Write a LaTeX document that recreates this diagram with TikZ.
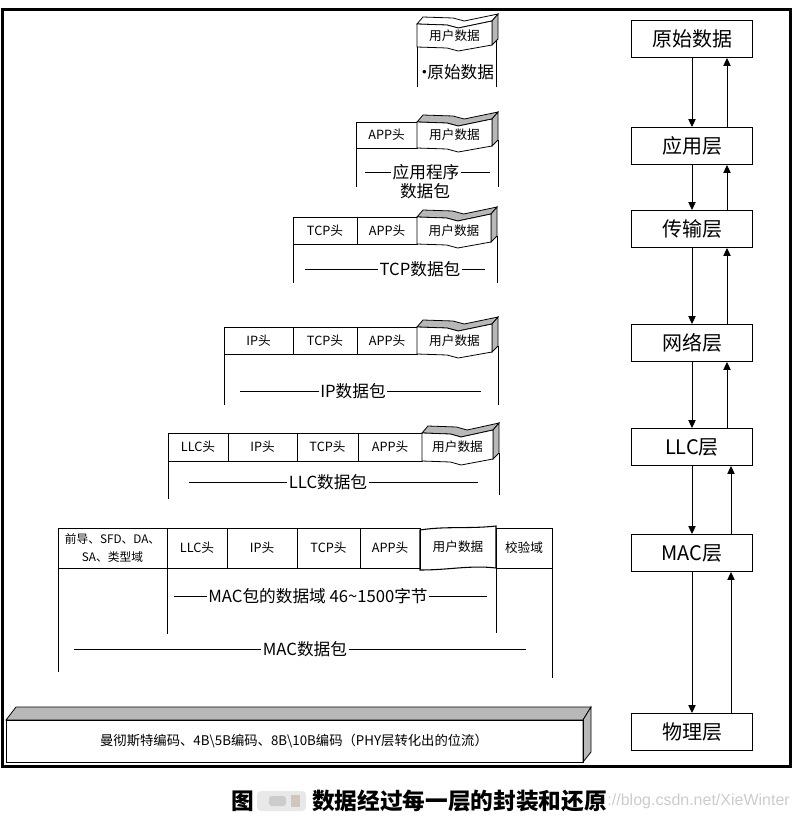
\documentclass[tikz,border=0pt]{standalone}
\usepackage{fontspec}
\setmainfont{Noto Sans CJK SC}
\newfontfamily\wmfont{Liberation Sans}
\usetikzlibrary{arrows.meta}
\definecolor{facegray}{gray}{0.72}

% one header cell of a packet: name, x0, y0, x1, y1, text
\newcommand{\pktcell}[6]{%
  \draw[cellline] (#2,#3) rectangle (#4,#5);
  \node[celltext] (#1) at ({(#2+#4)/2},{(#3+#5)/2}) {#6};}

% the 3d user data block: name, x0, top, x1, bottom, fill of top face
\newcommand{\udblock}[6]{%
  \pgfmathsetmacro{\ua}{#2+0.4*(#4-#2)}%
  \pgfmathsetmacro{\ub}{#2+0.55*(#4-#2)}%
  \filldraw[cellline,fill=#6] (#2,#3) -- (\ua,#3+1) -- (\ub,#3+4) -- (#4,#3-3) -- (#4+6,#3-10) -- (\ub+6,#3-3) -- (\ua+6,#3-6) -- (#2+6,#3-7) -- cycle;
  \filldraw[cellline,fill=facegray] (#4,#3-3) -- (#4+6,#3-10) -- (#4+6,#5-8) -- (#4,#5-2) -- cycle;
  \filldraw[cellline,fill=white] (#2,#3) -- (\ua,#3+1) -- (\ub,#3+4) -- (#4,#3-3) -- (#4,#5-2) -- (\ub,#5+4) -- (\ua,#5+1) -- (#2,#5) -- cycle;
  \node[celltext] (#1) at ({(#2+#4)/2},{(#3+#5)/2}) {用户数据};}

\begin{document}
\begin{tikzpicture}[x=0.75pt,y=-0.75pt,
    cellline/.style={line width=0.6pt},
    celltext/.style={font=\fontsize{9.5}{11}\selectfont,inner sep=0pt},
    pktlabel/.style={font=\fontsize{12.5}{14}\selectfont,inner sep=1pt},
    layer/.style={draw,line width=0.7pt,minimum width=90.75pt,minimum height=27.75pt,font=\fontsize{15}{17}\selectfont},
    arr/.style={line width=0.7pt,-{Triangle[length=6pt,width=5.5pt]}}]
  \useasboundingbox (0,0) rectangle (800,818);
  \draw[line width=2.25pt] (2.5,9.5) rectangle (790.5,766.5);

  % layers on the right
  \node[layer] (raw) at (692,39) {原始数据};
  \node[layer] (app) at (692,146) {应用层};
  \node[layer] (trans) at (692,229) {传输层};
  \node[layer] (net) at (692,343) {网络层};
  \node[layer] (llc) at (692,447) {LLC层};
  \node[layer] (mac) at (692,553) {MAC层};
  \node[layer] (phy) at (692,732) {物理层};
  \foreach \a/\b/\s in {raw/app/26.25pt,app/trans/26.25pt,trans/net/26.25pt,net/llc/26.25pt,llc/mac/29.25pt,mac/phy/29.25pt}{
    \draw[arr] (\a.south) -- (\b.north);
    \draw[arr] ([xshift=\s]\b.north) -- ([xshift=\s]\a.south);
  }

  % raw data
  \udblock{ud1}{417}{24}{492}{47}{white}
  \draw[cellline] (417,47) -- (417,87);
  \draw[cellline] (496,40) -- (496,87);
  \node[pktlabel] (rawlbl) at (455,72) {·\kern-4pt 原始数据};

  % application
  \pktcell{apph2}{356}{122}{417}{148}{APP头}
  \udblock{ud2}{417}{122}{492}{148}{facegray}
  \draw[cellline] (356,148) -- (356,187);
  \draw[cellline] (498,140) -- (498,187);
  \node[pktlabel] (applbl) at (426,172) {应用程序};
  \node[pktlabel] (applbl2) at (425,191) {数据包};
  \draw[cellline] (365,172) -- (applbl.west);
  \draw[cellline] (applbl.east) -- (490,172);

  % tcp
  \pktcell{tcph3}{293}{217}{357}{244}{TCP头}
  \pktcell{apph3}{357}{217}{417}{244}{APP头}
  \udblock{ud3}{417}{217}{491}{244}{facegray}
  \draw[cellline] (293,244) -- (293,283);
  \draw[cellline] (497,236) -- (497,283);
  \node[pktlabel] (tcplbl) at (420,269) {TCP数据包};
  \draw[cellline] (305,269) -- (tcplbl.west);
  \draw[cellline] (tcplbl.east) -- (485,269);

  % ip
  \pktcell{iph4}{224}{327}{293}{354}{IP头}
  \pktcell{tcph4}{293}{327}{357}{354}{TCP头}
  \pktcell{apph4}{357}{327}{417}{354}{APP头}
  \udblock{ud4}{417}{327}{492}{354}{facegray}
  \draw[cellline] (224,354) -- (224,405);
  \draw[cellline] (498,346) -- (498,405);
  \node[pktlabel] (iplbl) at (353,391) {IP数据包};
  \draw[cellline] (240,391) -- (iplbl.west);
  \draw[cellline] (iplbl.east) -- (481,391);

  % llc
  \pktcell{llch5}{168}{433}{228}{461}{LLC头}
  \pktcell{iph5}{228}{433}{297}{461}{IP头}
  \pktcell{tcph5}{297}{433}{358}{461}{TCP头}
  \pktcell{apph5}{358}{433}{422}{461}{APP头}
  \udblock{ud5}{422}{433}{493}{461}{facegray}
  \draw[cellline] (168,461) -- (168,499);
  \draw[cellline] (499,453) -- (499,495);
  \node[pktlabel] (llclbl) at (328,482) {LLC数据包};
  \draw[cellline] (189,482) -- (llclbl.west);
  \draw[cellline] (llclbl.east) -- (478,482);

  % mac
  \draw[cellline] (58,528) rectangle (167,568);
  \node[celltext,align=center,font=\fontsize{8.8}{13}\selectfont] (pre6) at (112.5,548) {前导、SFD、DA、\\SA、类型域};
  \pktcell{llch6}{167}{528}{227}{568}{LLC头}
  \pktcell{iph6}{227}{528}{297}{568}{IP头}
  \pktcell{tcph6}{297}{528}{360}{568}{TCP头}
  \pktcell{apph6}{360}{528}{420}{568}{APP头}
  \pktcell{fcs6}{496}{528}{552}{568}{校验域}
  \draw[cellline,line width=0.8pt] (420,530) .. controls (445,526) and (470,529) .. (496,526) -- (496,568) .. controls (470,565) and (450,570) .. (420,570) -- cycle;
  \node[celltext] (ud6) at (458,547) {用户数据};
  \draw[cellline] (167,568) -- (167,634);
  \draw[cellline] (496,568) -- (496,633);
  \draw[cellline] (58,568) -- (58,672);
  \draw[cellline] (552,568) -- (552,678);
  \node[pktlabel] (maclbl) at (318,596) {MAC包的数据域 46\textasciitilde1500字节};
  \draw[cellline] (174,596) -- (maclbl.west);
  \draw[cellline] (maclbl.east) -- (487,596);
  \node[pktlabel] (macpkt) at (305,649) {MAC数据包};
  \draw[cellline] (74,649) -- (macpkt.west);
  \draw[cellline] (macpkt.east) -- (526,649);

  % physical bits
  \filldraw[cellline,fill=facegray] (6,720) -- (16,707) -- (591,707) -- (583,720) -- cycle;
  \filldraw[cellline,fill=facegray] (583,720) -- (591,707) -- (591,752) -- (583,762) -- cycle;
  \draw[cellline] (6,720) rectangle (583,762);
  \node[font=\fontsize{10}{12}\selectfont] (phybits) at (294,741) {曼彻斯特编码、4B\textbackslash5B编码、8B\textbackslash10B编码（PHY层转化出的位流）};

  % caption
  \node[font=\fontsize{17}{20}\selectfont\bfseries,inner sep=0pt] (figno) at (243,801) {图};
  \fill[gray!18,rounded corners=3pt] (257,791) rectangle (306,811);
  \fill[gray!40,rounded corners=2pt] (269,796) rectangle (286,806);
  \fill[brown!35!gray!45] (291,795) rectangle (300,807);
  \node[anchor=west,inner sep=0pt,font=\fontsize{17}{20}\selectfont\bfseries] (caption) at (312,801) {数据经过每一层的封装和还原};
  \node[anchor=west,inner sep=0pt,text=gray!40,font=\wmfont\fontsize{12}{14}\selectfont] (wm) at (caption.east) {://blog.csdn.net/XieWinter};
\end{tikzpicture}
\end{document}
